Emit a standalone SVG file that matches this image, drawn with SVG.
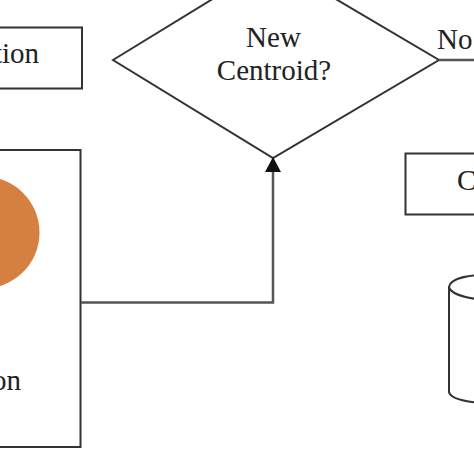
<svg xmlns="http://www.w3.org/2000/svg" width="474" height="474" viewBox="0 0 474 474">
<style>
.s{fill:#fff;stroke:#333;stroke-width:2}
.c{fill:none;stroke:#555;stroke-width:2.500}
text{font-family:"Liberation Serif","Times New Roman",serif;font-size:29px;fill:#222}
</style>
<rect width="474" height="474" fill="#fff"/>
<g id="node-top-left"><rect class="s" x="-10" y="27.500" width="92" height="61"/><text x="39" y="63" text-anchor="end">tion</text></g>
<g id="node-left"><rect class="s" x="-10" y="150" width="90.500" height="297"/><circle cx="-16.500" cy="232.500" r="56" fill="#d57f40"/><text x="21" y="389.500" text-anchor="end">on</text></g>
<g id="node-diamond"><path class="s" d="M113 60L273 -38L439 60L273 158Z"/><text x="273.500" y="47" text-anchor="middle">New</text><text x="274" y="80" text-anchor="middle">Centroid?</text></g>
<g id="node-right"><rect class="s" x="405.500" y="153.500" width="90" height="61"/><text x="457" y="190">C</text></g>
<g id="node-cylinder"><path class="s" d="M449 287V392C450 397 460 401 480 403H490V275H480C460 276 450 281 449 287C450 292 460 297 480 299.500"/></g>
<g id="connectors"><path class="c" d="M81 302.500H273V170"/><path d="M273 157L281 172H265Z" fill="#111"/><path class="c" d="M439 60H480"/><text x="437" y="49">No</text></g>
</svg>
